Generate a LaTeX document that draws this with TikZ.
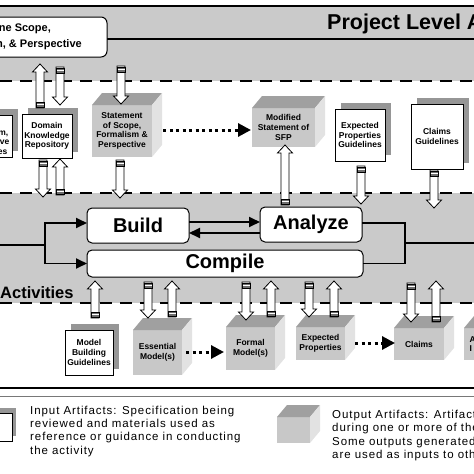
\documentclass[tikz,border=0pt]{standalone}
\usepackage{fontspec}
\setmainfont{Liberation Sans}
\newfontfamily\legendfont[LetterSpace=8]{Liberation Sans}
\usetikzlibrary{arrows.meta,calc}
\definecolor{band}{RGB}{202,202,202}
\definecolor{cubefront}{RGB}{200,200,200}
\definecolor{cubetop}{RGB}{160,160,160}
\definecolor{cubeside}{RGB}{226,226,226}
\definecolor{shadowgray}{RGB}{150,150,150}
\definecolor{stripegray}{RGB}{110,110,110}
\definecolor{rulegray}{RGB}{120,120,120}

\newcommand{\docbox}[6]{%
  \fill[shadowgray] (#2-#4/2+6, #3-#5/2-6) rectangle (#2+#4/2+6, #3+#5/2-6);
  \node[docnode, minimum width=#4pt, minimum height=#5pt] (#1) at (#2,#3) {#6};
}
\newcommand{\artcube}[6]{%
  \node[frontface, minimum width=#4pt, minimum height=#5pt] (#1) at (#2,#3) {#6};
  \fill[cubetop] (#1.north west) -- (#1.north east) -- ++(10,-12) -- ($(#1.north west)+(10,-12)$) -- cycle;
  \fill[cubeside] (#1.north east) -- ++(10,-12) -- ($(#1.south east)+(10,-12)$) -- (#1.south east) -- cycle;
}
\newcommand{\blockarrow}[2]{%
  \path[draw=black, fill=white, line width=0.8pt] let \p1=(#1), \p2=(#2), \n1={sign(\y2-\y1)} in
    ({\x1-4pt},\y1) -- ({\x1-4pt},{\y2-\n1*8pt}) -- ({\x1-7.5pt},{\y2-\n1*8pt}) -- (\x1,\y2)
    -- ({\x1+7.5pt},{\y2-\n1*8pt}) -- ({\x1+4pt},{\y2-\n1*8pt}) -- ({\x1+4pt},\y1) -- cycle;
  \path[fill=stripegray, draw=black, line width=0.6pt] let \p1=(#1), \p2=(#2), \n1={sign(\y2-\y1)} in
    ({\x1-4pt},{\y1+\n1*1pt}) rectangle ({\x1+4pt},{\y1+\n1*6pt});
  \path[draw=white, line width=0.8pt] let \p1=(#1), \p2=(#2), \n1={sign(\y2-\y1)} in
    ({\x1-3.5pt},{\y1+\n1*3.5pt}) -- ({\x1+3.5pt},{\y1+\n1*3.5pt});
}

\begin{document}
\begin{tikzpicture}[x=1pt,y=-1pt,
  lbl/.style={font=\bfseries\fontsize{8.5}{9.6}\selectfont, align=center, inner sep=0pt, outer sep=0pt},
  docnode/.style={lbl, draw=black, fill=white, line width=0.9pt},
  frontface/.style={lbl, fill=cubefront},
  act/.style={draw=black, fill=white, rounded corners=5pt, line width=1pt,
    font=\bfseries\fontsize{20}{22}\selectfont, inner sep=0pt, outer sep=0pt},
  conn/.style={line width=1.8pt},
  tipped/.style={-{Triangle[length=11pt,width=10pt]}},
  dotarrow/.style={line width=3pt, dash pattern=on 3pt off 3.5pt, -{Triangle[length=13pt,width=13pt]}},
  bandline/.style={line width=2.6pt, dash pattern=on 12pt off 8pt},
  legend/.style={font=\legendfont\fontsize{11.5}{13.4}\selectfont, align=left, inner sep=0pt, anchor=north west}]
\useasboundingbox (0,0) rectangle (474,474);
\clip (0,0) rectangle (474,474);

% bands
\fill[band] (0,6) rectangle (474,81);
\fill[band] (0,193) rectangle (474,303);
\draw[line width=1.6pt] (0,6) -- (474,6);
\draw[line width=1.6pt] (107,39) -- (474,39);
\draw[bandline] (0,81) -- (474,81);
\draw[bandline] (0,193) -- (474,193);
\draw[bandline] (0,303) -- (474,303);
\draw[line width=2.4pt] (0,388) -- (474,388);
\draw[rulegray, line width=1pt] (0,396.5) -- (474,396.5);

% top band
\node[draw=black, fill=white, rounded corners=6pt, line width=1pt, minimum width=185pt, minimum height=40pt,
  inner sep=0pt, outer sep=0pt, align=center, font=\bfseries\fontsize{11}{16}\selectfont] (scope) at (14.5,37)
  {Define Scope,\\Formalism, \& Perspective};
\node[anchor=west, inner sep=0pt, font=\bfseries\fontsize{21.5}{24}\selectfont] (hdr) at (327,24) {Project Level A};

% middle white band
\docbox{sfpguide}{-19}{136}{62}{42}{}
\node[lbl] (sfptext) at (-14.5,137) {Scope,\\Formalism,\\Perspective\\Guidelines};
\docbox{domain}{47}{136}{50}{44}{Domain\\Knowledge\\Repository}
\artcube{stmt}{122}{131}{60}{52}{Statement\\of Scope,\\Formalism \&\\Perspective}
\artcube{modstmt}{283.5}{127.5}{63}{39}{Modified\\Statement of\\SFP}
\docbox{epguide}{360}{135}{50}{52}{Expected\\Properties\\Guidelines}
\docbox{clguide}{437}{136.5}{52}{65}{Claims\\Guidelines}

\coordinate (d1s) at (163,130);
\coordinate (d1e) at (251,130);
\draw[dotarrow] (d1s) -- (d1e);

% activities band
\node[act, minimum width=102pt, minimum height=35pt] (build) at (138,225.5) {Build};
\node[act, minimum width=102pt, minimum height=35pt] (analyze) at (311,224.5) {Analyze};
\node[act, minimum width=276pt, minimum height=27pt] (compile) at (225,263.5) {Compile};
\node[anchor=base west, inner sep=0pt, font=\bfseries\fontsize{16.5}{20}\selectfont] (actlbl) at (0,298) {Activities};

\coordinate (inL) at (0,245);
\coordinate (jL) at (45,245);
\draw[conn] (inL) -- (jL);
\draw[conn,tipped] (jL) |- ([yshift=2.5pt]build.west);
\draw[conn,tipped] (jL) |- (compile.west);
\draw[conn,tipped] ([yshift=3.5pt]build.east) -- ([yshift=3.5pt]build.east -| analyze.west);
\draw[conn,tipped] ([yshift=-7.5pt]build.east -| analyze.west) -- ([yshift=-7.5pt]build.east);
\coordinate (jR) at (405,243);
\coordinate (outR) at (474,243);
\draw[conn] ([yshift=1.5pt]analyze.east) -| (jR) |- (compile.east);
\draw[conn] (jR) -- (outR);

% bottom white band
\docbox{mbguide}{89}{352.5}{48}{45}{Model\\Building\\Guidelines}
\artcube{essential}{157.5}{352.5}{49}{45}{Essential\\Model(s)}
\artcube{formal}{250.5}{348.5}{49}{43}{Formal\\Model(s)}
\artcube{expprop}{320.5}{343.5}{49}{33}{Expected\\Properties}
\artcube{claims}{419}{344}{50}{32}{Claims}
\artcube{analysis}{489}{344}{50}{32}{}
\node[lbl, anchor=west, align=left] (anltxt) at (469.5,344) {A\\I};

\coordinate (d2s) at (186,352);
\coordinate (d2e) at (224,352);
\draw[dotarrow] (d2s) -- (d2e);
\coordinate (d3s) at (355,343);
\coordinate (d3e) at (395,343);
\draw[dotarrow] (d3s) -- (d3e);

% block arrows: top band <-> middle band
\coordinate (a1t) at (40,108); \coordinate (a1h) at (40,64);
\coordinate (a2t) at (60,67);  \coordinate (a2h) at (60,105);
\coordinate (a3t) at (121,66); \coordinate (a3h) at (121,104);
\coordinate (a4t) at (43,160); \coordinate (a4h) at (43,197);
\coordinate (a5t) at (60,195); \coordinate (a5h) at (60,159);
\coordinate (a6t) at (120,160); \coordinate (a6h) at (120,198);
\coordinate (a7t) at (285,205); \coordinate (a7h) at (285,145);
\coordinate (a8t) at (361,166); \coordinate (a8h) at (361,204);
\coordinate (a9t) at (434,170); \coordinate (a9h) at (434,208);
\foreach \k in {1,...,9} {\blockarrow{a\k t}{a\k h}}

% block arrows: activities <-> bottom band
\coordinate (b1t) at (95,318);  \coordinate (b1h) at (95,281);
\coordinate (b2t) at (148,282); \coordinate (b2h) at (148,318);
\coordinate (b3t) at (172,317); \coordinate (b3h) at (172,281);
\coordinate (b4t) at (246,282); \coordinate (b4h) at (246,320);
\coordinate (b5t) at (271,317); \coordinate (b5h) at (271,281);
\coordinate (b6t) at (309,282); \coordinate (b6h) at (309,317);
\coordinate (b7t) at (334,317); \coordinate (b7h) at (334,281);
\coordinate (b8t) at (411,283); \coordinate (b8h) at (411,322);
\coordinate (b9t) at (436,322); \coordinate (b9h) at (436,281);
\foreach \k in {1,...,9} {\blockarrow{b\k t}{b\k h}}

% legend
\fill[shadowgray] (-24,408) rectangle (16,436);
\node[draw=black, fill=white, line width=0.9pt, minimum width=42pt, minimum height=28pt, inner sep=0pt] (inicon) at (-9,427) {};
\node[legend] (intext) at (30,405.5) {Input Artifacts: Specification being\\reviewed and materials used as\\reference or guidance in conducting\\the activity};
\artcube{outicon}{293.5}{430}{33}{26}{}
\node[legend] (outtext) at (332,410) {Output Artifacts: Artifacts\\during one or more of the\\Some outputs generated\\are used as inputs to other};
\end{tikzpicture}
\end{document}
